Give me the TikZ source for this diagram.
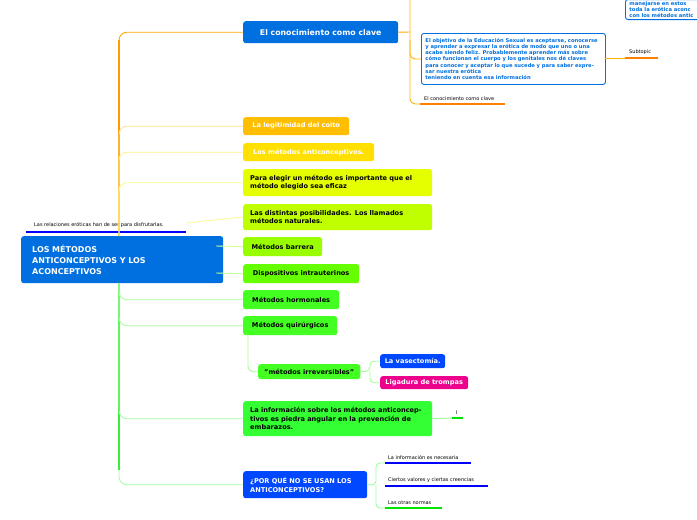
\documentclass[tikz,border=0pt]{standalone}
\usepackage{fontspec}
\setmainfont{DejaVu Sans}
\begin{document}
\begin{tikzpicture}[x=1pt,y=-1pt,
 box/.style={rounded corners=2.5pt,anchor=north west,inner sep=0pt,font=\bfseries\fontsize{6.6}{8.6}\selectfont,align=left},
 sm/.style={anchor=south west,inner sep=1pt,font=\fontsize{5}{6}\selectfont},
 conn/.style={line width=0.9pt,rounded corners=8pt}]
\useasboundingbox (0,0) rectangle (697,520);
\definecolor{cblue}{HTML}{0070E0}
\definecolor{c1}{HTML}{FFBF00}\definecolor{c2}{HTML}{FFE000}\definecolor{c3}{HTML}{E6FF00}
\definecolor{c4}{HTML}{BFFF00}\definecolor{c5}{HTML}{99FF00}\definecolor{c6}{HTML}{66FF00}
\definecolor{c7}{HTML}{44FF22}\definecolor{c8}{HTML}{33FF33}\definecolor{cpq}{HTML}{0048FF}
% trunk lines
\draw[line width=1.6pt,orange!80!yellow] (119,40) -- (119,236);
\draw[line width=1.6pt,green!90!black] (119,283) -- (119,470);
% root
\node[box,fill=cblue,text=white,minimum width=195pt,minimum height=47pt,text width=180pt,font=\bfseries\fontsize{8}{11}\selectfont,inner xsep=11pt] (root) at (21,236) {LOS MÉTODOS\\ANTICONCEPTIVOS Y LOS\\ACONCEPTIVOS};
\node[sm] (rel) at (33,229) {Las relaciones eróticas han de ser para disfrutarlas.};
\draw[line width=2pt,blue] (26,232) -- (186,232);
\draw[conn,yellow!40] (186,223) -- (243,217);
% conocimiento
\node[box,fill=cblue,text=white,minimum width=155pt,minimum height=22pt,inner xsep=9pt,font=\bfseries\fontsize{7.8}{9}\selectfont] (con) at (243,21) {El conocimiento como clave};
\draw[conn,orange!70!yellow] (119,60) |- (con.west);
\draw[line width=0.9pt,orange!70!yellow] (con.east) -- (410,32);
\draw[line width=0.9pt,orange!60!yellow,rounded corners=5pt] (410,0) -- (410,104) -- (420,104);
\node[box,draw=cblue,line width=0.9pt,fill=white,text=cblue,minimum width=184pt,minimum height=51pt,text width=176pt,inner xsep=4pt,font=\bfseries\fontsize{5.2}{6.3}\selectfont] (obj) at (421,33) {El objetivo de la Educación Sexual es aceptarse, conocerse y aprender a expresar la erótica de modo que uno o una acabe siendo feliz. Probablemente aprender más sobre cómo funcionan el cuerpo y los genitales nos dé claves para conocer y aceptar lo que sucede y para saber expresar nuestra erótica\\teniendo en cuenta esa información};
\draw[line width=0.9pt,orange!60!yellow,rounded corners=5pt] (410,40) |- (obj.west);
\node[box,draw=cblue,line width=0.9pt,fill=white,text=cblue,minimum width=80pt,minimum height=20pt,text width=76pt,inner xsep=4pt,font=\bfseries\fontsize{5.2}{6.3}\selectfont,anchor=south west] (top) at (625,20) {manejarse en estos\\toda la erótica aconc\\con los métodos antic};
\draw[line width=0.9pt,orange!60!yellow] (605,58) -- (625,58);
\node[sm] (sub) at (628,56) {Subtopic};
\draw[line width=2pt,orange] (625,58) -- (658,58);
\node[sm] (cc) at (423,102) {El conocimiento como clave};
\draw[line width=2pt,orange] (420,104) -- (505,104);
% left children
\node[box,fill=c1,text=white,minimum width=106pt,minimum height=18pt,inner xsep=7pt] (n1) at (243,117) {La legitimidad del coito};
\node[box,fill=c2,text=white,minimum width=131pt,minimum height=18pt,inner xsep=7pt] (n2) at (243,143) {Los métodos anticonceptivos.};
\node[box,fill=c3,text=black,minimum width=189pt,minimum height=27pt,text width=175pt,inner xsep=7pt] (n3) at (243,169) {Para elegir un método es importante que el método elegido sea eficaz};
\node[box,fill=c4,text=black,minimum width=189pt,minimum height=26pt,text width=175pt,inner xsep=7pt] (n4) at (243,204) {Las distintas posibilidades. Los llamados métodos naturales.};
\node[box,fill=c5,text=black,minimum width=79pt,minimum height=19pt,inner xsep=7pt] (n5) at (243,237) {Métodos barrera};
\node[box,fill=c6,text=black,minimum width=116pt,minimum height=19pt,inner xsep=7pt] (n6) at (243,264) {Dispositivos intrauterinos};
\node[box,fill=c7,text=black,minimum width=96pt,minimum height=19pt,inner xsep=7pt] (n7) at (243,290) {Métodos hormonales};
\node[box,fill=c7,text=black,minimum width=94pt,minimum height=19pt,inner xsep=7pt] (n8) at (243,316) {Métodos quirúrgicos};
\node[box,fill=c7,text=black,minimum width=102pt,minimum height=15pt,inner xsep=6pt] (irr) at (258,364) {"métodos irreversibles"};
\node[box,fill=cpq,text=white,minimum width=65pt,minimum height=14pt,inner xsep=4pt] (vas) at (380,354) {La vasectomía.};
\node[box,fill=magenta,text=white,minimum width=88pt,minimum height=13pt,inner xsep=4pt] (lig) at (380,376) {Ligadura de trompas};
\node[box,fill=c8,text=black,minimum width=189pt,minimum height=35pt,text width=175pt,inner xsep=7pt] (n9) at (243,401) {La información sobre los métodos anticonceptivos es piedra angular en la prevención de embarazos.};
\node[box,fill=cpq,text=white,minimum width=122pt,minimum height=27pt,text width=110pt,inner xsep=7pt] (pq) at (243,471) {¿POR QUÉ NO SE USAN LOS ANTICONCEPTIVOS?};
\foreach \n/\c in {n1/c1,n2/c2,n3/c3}{\draw[conn,\c!45] (119,236) |- (\n.west);}
\foreach \n/\c in {n7/c7,n8/c7,n9/c8,pq/c8}{\draw[conn,\c!45] (119,283) |- (\n.west);}
\draw[conn,c5!40] (216,246) -- (n5.west);
\draw[conn,c6!40] (216,273) -- (n6.west);
\draw[conn,c7!50,rounded corners=5pt] (248,335) |- (irr.west);
\draw[conn,c7!50,rounded corners=4pt] (irr.east) -- (370,371) |- (vas.west);
\draw[conn,c7!50,rounded corners=4pt] (370,371) |- (lig.west);
\draw[conn,c8!50] (n9.east) -- (452,418);
\node[sm] (ii) at (455,416) {I};
\draw[line width=2pt,green!90!black] (452,418) -- (463,418);
\draw[conn,c8!50,rounded corners=4pt] (pq.east) -- (376,485) |- (385,463);
\draw[conn,c8!50,rounded corners=4pt] (376,485) |- (385,508);
\node[sm] (t1) at (387,461) {La información es necesaria};
\node[sm] (t2) at (387,484) {Ciertos valores y ciertas creencias};
\node[sm] (t3) at (387,506) {Las otras normas};
\draw[line width=2pt,blue] (385,463) -- (471,463);
\draw[line width=2pt,blue] (385,486) -- (488,486);
\draw[line width=2pt,green!90!black] (385,508) -- (442,508);
\end{tikzpicture}
\end{document}
